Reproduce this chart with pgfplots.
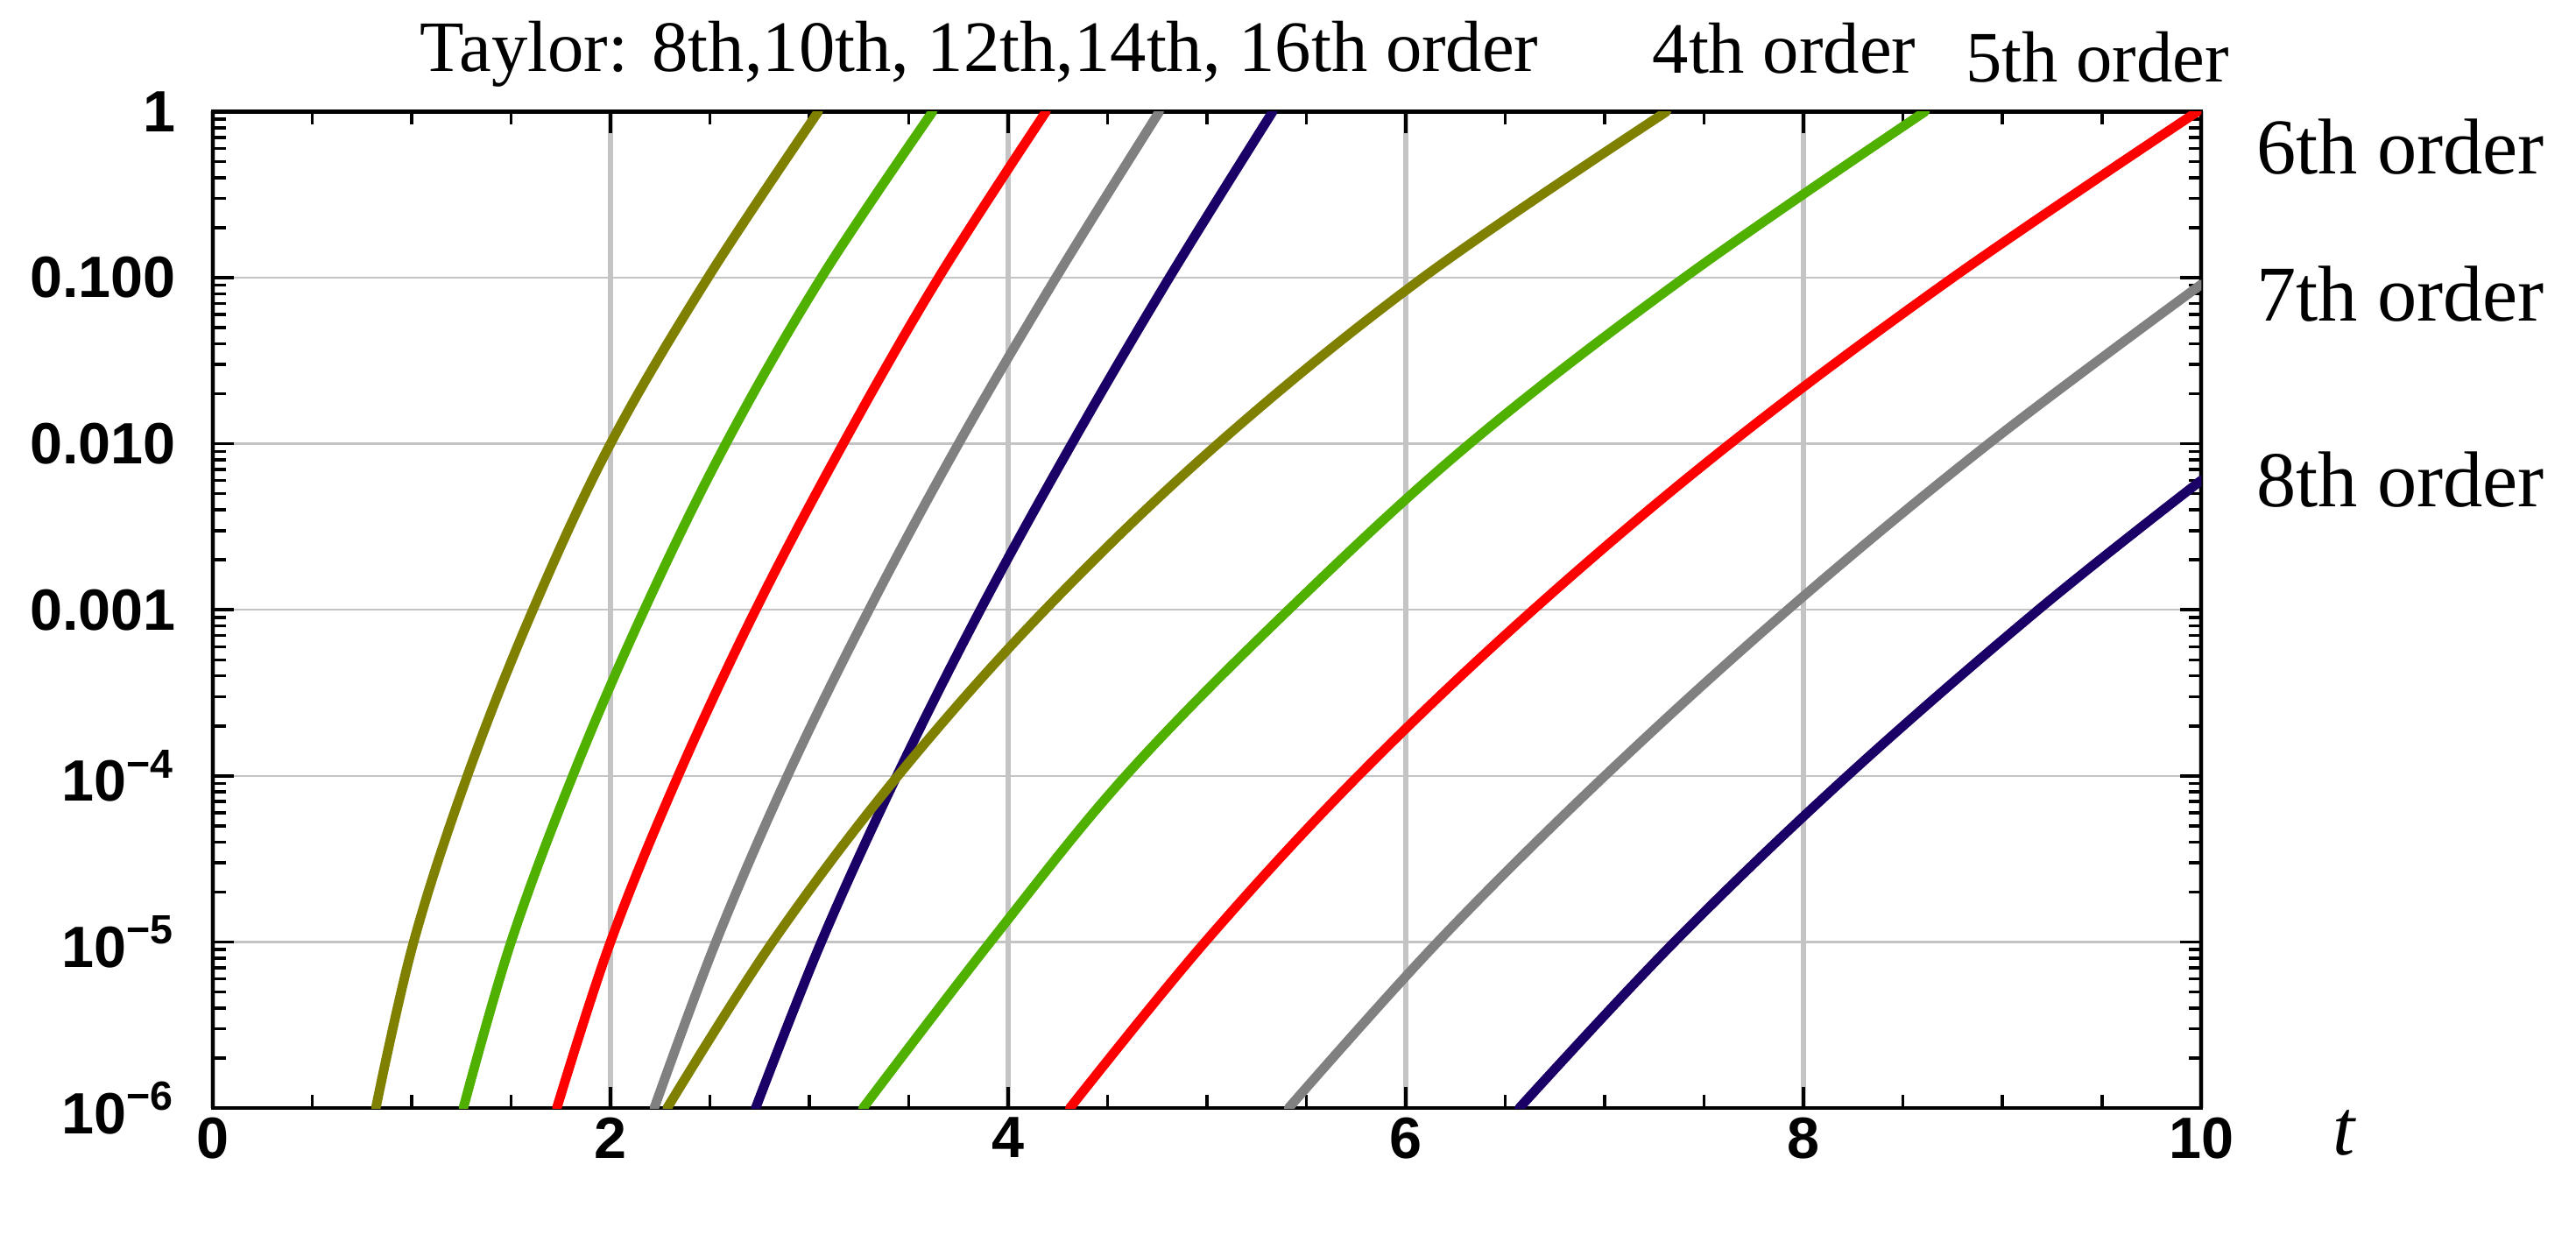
\documentclass[border=0pt]{standalone}
\usepackage{pgfplots}
\pgfplotsset{compat=1.18}
\usepackage{fontspec}
\setmainfont{Liberation Serif}
\newfontfamily\tickfont{Liberation Sans}
\definecolor{cOlive}{HTML}{808000}
\definecolor{cGreen}{HTML}{50B000}
\definecolor{cRed}{HTML}{FF0000}
\definecolor{cGrey}{HTML}{808080}
\definecolor{cNavy}{HTML}{1A0066}
\definecolor{gridc}{HTML}{C4C4C4}
\tikzset{cv/.style={line width=1.55pt, line cap=round, smooth, tension=0.6}}
\begin{document}
\begin{tikzpicture}
\begin{axis}[
  scale only axis, width=324.3pt, height=162.5pt,
  at={(0,0)}, anchor=south west,
  xmin=0, xmax=10, ymode=log, ymin=1e-6, ymax=1,
  xtick={0,2,4,6,8,10}, xticklabels={0,2,4,6,8,10}, minor x tick num=3,
  ytick={1e-6,1e-5,1e-4,1e-3,1e-2,1e-1,1},
  yticklabels={{10\textsuperscript{−6}},{10\textsuperscript{−5}},{10\textsuperscript{−4}},{0.001},{0.010},{0.100},{1}},
  minor ytick={2e-6,3e-6,4e-6,5e-6,6e-6,7e-6,8e-6,9e-6,
               2e-5,3e-5,4e-5,5e-5,6e-5,7e-5,8e-5,9e-5,
               2e-4,3e-4,4e-4,5e-4,6e-4,7e-4,8e-4,9e-4,
               2e-3,3e-3,4e-3,5e-3,6e-3,7e-3,8e-3,9e-3,
               2e-2,3e-2,4e-2,5e-2,6e-2,7e-2,8e-2,9e-2,
               0.2,0.3,0.4,0.5,0.6,0.7,0.8,0.9},
  tick align=inside, major tick length=3.5pt, minor tick length=2.1pt,
  xmajorgrids, ymajorgrids,
  major x grid style={gridc, line width=0.8pt},
  major y grid style={gridc, line width=0.35pt},
  axis line style={line width=0.6pt},
  every tick/.style={black, line width=0.5pt},
  ticklabel style={font=\tickfont\bfseries\fontsize{9.5}{11}\selectfont},
  xticklabel style={yshift=2pt},
  yticklabel style={xshift=-2.5pt},
]
% Taylor 8th
\addplot[cOlive, cv] coordinates {(0.82,1e-6) (1.01,1e-5) (1.28,1e-4) (1.61,1e-3) (2.00,1e-2) (2.49,0.1) (3.045,1)};
% Taylor 10th
\addplot[cGreen, cv] coordinates {(1.26,1e-6) (1.50,1e-5) (1.81,1e-4) (2.17,1e-3) (2.58,1e-2) (3.06,0.1) (3.62,1)};
% Taylor 12th
\addplot[cRed, cv] coordinates {(1.73,1e-6) (2.00,1e-5) (2.34,1e-4) (2.73,1e-3) (3.17,1e-2) (3.65,0.1) (4.19,1)};
% Taylor 14th
\addplot[cGrey, cv] coordinates {(2.22,1e-6) (2.53,1e-5) (2.89,1e-4) (3.30,1e-3) (3.75,1e-2) (4.24,0.1) (4.76,1)};
% Taylor 16th
\addplot[cNavy, cv] coordinates {(2.73,1e-6) (3.06,1e-5) (3.44,1e-4) (3.86,1e-3) (4.32,1e-2) (4.81,0.1) (5.33,1)};
% 4th order
\addplot[cOlive, cv] coordinates {(2.285,1e-6) (2.815,1e-5) (3.445,1e-4) (4.185,1e-3) (5.055,1e-2) (6.085,0.1) (7.31,1)};
% 5th order
\addplot[cGreen, cv] coordinates {(3.27,1e-6) (3.91,1e-5) (4.59,1e-4) (5.41,1e-3) (6.32,1e-2) (7.40,0.1) (8.61,1)};
% 6th order
\addplot[cRed, cv] coordinates {(4.31,1e-6) (4.99,1e-5) (5.76,1e-4) (6.64,1e-3) (7.63,1e-2) (8.75,0.1) (9.98,1)};
% 7th order
\addplot[cGrey, cv] coordinates {(5.41,1e-6) (6.16,1e-5) (7.00,1e-4) (7.92,1e-3) (8.93,1e-2) (10,0.0912)};
% 8th order
\addplot[cNavy, cv] coordinates {(6.57,1e-6) (7.35,1e-5) (8.22,1e-4) (9.18,1e-3) (10,6.03e-3)};
\end{axis}
\begin{scope}[every node/.style={inner sep=0pt, font=\fontsize{11.8}{14}\selectfont}]
\node[anchor=base west] at (33.6pt,169pt) {Taylor: 8th,10th, 12th,14th, 16th order};
\node[anchor=base west] at (234.6pt,168.8pt) {4th order};
\node[anchor=base west] at (285.7pt,167.3pt) {5th order};
\end{scope}
\begin{scope}[every node/.style={inner sep=0pt, font=\fontsize{12.9}{15}\selectfont}]
\node[anchor=base west] at (333.1pt,152.3pt) {6th order};
\node[anchor=base west] at (333.1pt,128.4pt) {7th order};
\node[anchor=base west] at (333.1pt,98.1pt) {8th order};
\node[anchor=center] at (347.6pt,-4.1pt) {\itshape t};
\end{scope}
\pgfresetboundingbox
\path (-34.7pt,-20.6pt) rectangle (385.4pt,180.7pt);
\end{tikzpicture}
\end{document}
